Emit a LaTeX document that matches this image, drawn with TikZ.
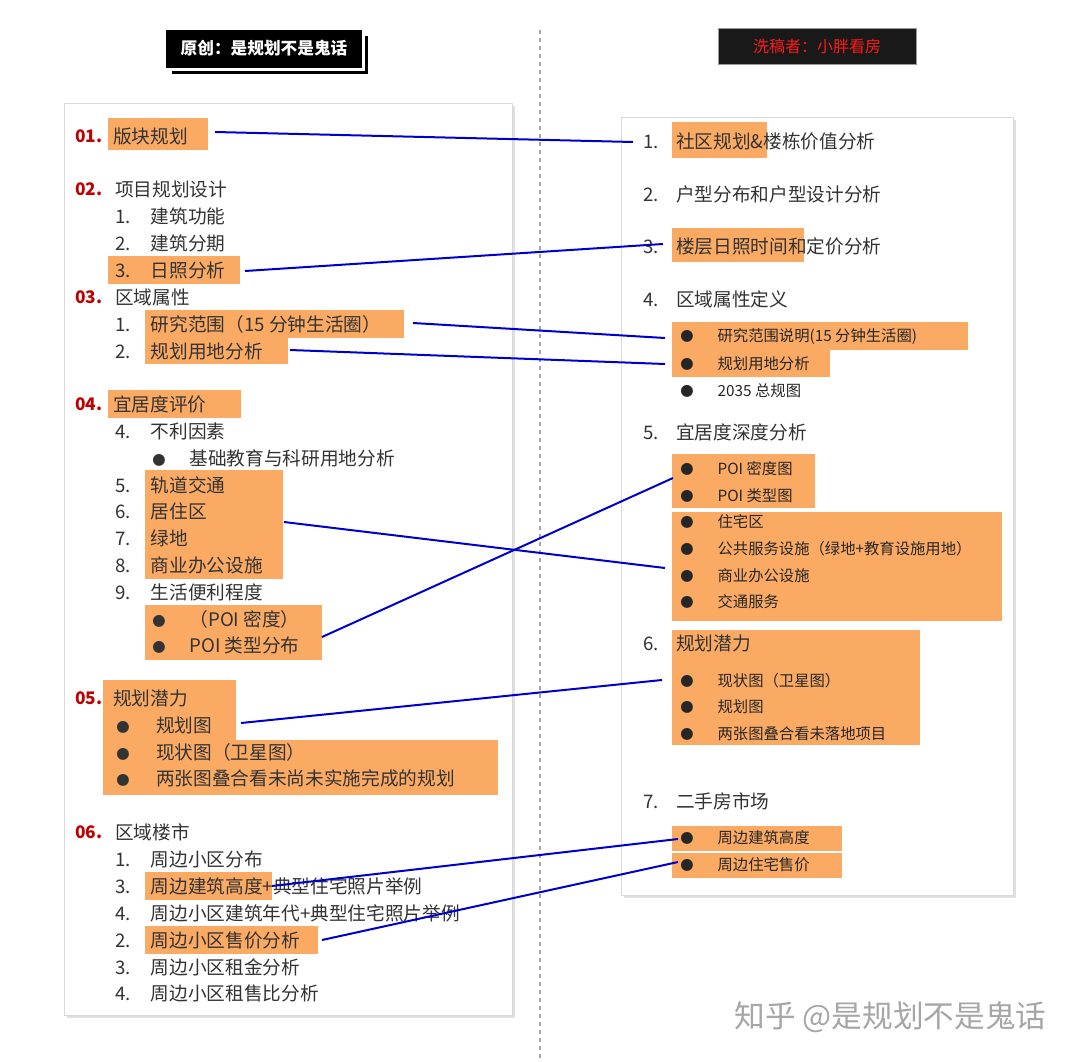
\documentclass[tikz,border=0pt]{standalone}
\usepackage{fontspec}
\setmainfont{Noto Sans CJK SC}
\newcommand{\bul}{{\fontsize{10}{12}\selectfont●}}
\begin{document}
\begin{tikzpicture}[x=0.75pt,y=-0.75pt,
  tx/.style={anchor=west,inner sep=0pt,font=\fontsize{14}{16}\selectfont,text=black!80},
  rtx/.style={anchor=west,inner sep=0pt,font=\fontsize{11.5}{13}\selectfont,text=black!85},
  num/.style={tx,text=red!75!black,font=\fontsize{13}{15}\selectfont\bfseries},
  lk/.style={draw=blue!80!black,line width=1.5pt}]
\definecolor{hlc}{HTML}{FBAA63}
\useasboundingbox (0,0) rectangle (1080,1062);
\fill[white] (0,0) rectangle (1080,1062);
\draw[black!35,dashed,line width=0.8pt] (540,30) -- (540,1062);
% cards
\fill[black!12] (67,106) rectangle (515,1018);
\fill[white,draw=black!15] (64,103) rectangle (512,1015);
\fill[black!12] (624,120) rectangle (1016,898);
\fill[white,draw=black!15] (621,117) rectangle (1013,895);
% headers
\fill[black] (172,36) rectangle (368,74);
\fill[white] (169,33) rectangle (365,71);
\fill[black] (166,30) rectangle (362,68);
\node[text=white,font=\fontsize{12.5}{14}\selectfont\bfseries] (h1) at (264,48) {原创：是规划不是鬼话};
\fill[black!90,draw=black!40] (718,28) rectangle (916,64);
\node[text=red!90,font=\fontsize{12}{14}\selectfont] (h2) at (817,46) {洗稿者：小胖看房};
% left highlights
\fill[hlc] (108,118) rectangle (208,150);
\fill[hlc] (108,256) rectangle (240,284);
\fill[hlc] (145,310) rectangle (404,338);
\fill[hlc] (145,337) rectangle (288,364);
\fill[hlc] (108,390) rectangle (241,418);
\fill[hlc] (145,470) rectangle (283,579);
\fill[hlc] (145,605) rectangle (322,660);
\fill[hlc] (103,680) rectangle (236,741);
\fill[hlc] (103,740) rectangle (498,795);
\fill[hlc] (145,872) rectangle (272,900);
\fill[hlc] (145,926) rectangle (318,954);
% right highlights
\fill[hlc] (672,122) rectangle (767,158);
\fill[hlc] (672,228) rectangle (804,262);
\fill[hlc] (672,322) rectangle (968,350);
\fill[hlc] (672,350) rectangle (830,377);
\fill[hlc] (672,454) rectangle (815,508);
\fill[hlc] (672,512) rectangle (1002,621);
\fill[hlc] (672,630) rectangle (920,745);
\fill[hlc] (672,826) rectangle (842,851);
\fill[hlc] (672,853) rectangle (842,878);
% left text
\node[num] (l01) at (75,136) {01.};
\node[tx] (a1) at (113,136) {版块规划};
\node[num] (l02) at (75,189) {02.};
\node[tx] at (115,189) {项目规划设计};
\node[tx] at (115,216) {1.\hspace{15pt}建筑功能};
\node[tx] at (115,243) {2.\hspace{15pt}建筑分期};
\node[tx] (a2) at (115,270) {3.\hspace{15pt}日照分析};
\node[num] at (75,297) {03.};
\node[tx] at (115,297) {区域属性};
\node[tx] (a3) at (115,324) {1.\hspace{15pt}研究范围（15 分钟生活圈）};
\node[tx] (a4) at (115,351) {2.\hspace{15pt}规划用地分析};
\node[num] at (75,404) {04.};
\node[tx] at (113,404) {宜居度评价};
\node[tx] at (115,431) {4.\hspace{15pt}不利因素};
\node[tx] at (152,458) {\bul\hspace{18pt}基础教育与科研用地分析};
\node[tx] at (115,485) {5.\hspace{15pt}轨道交通};
\node[tx] (a5) at (115,511) {6.\hspace{15pt}居住区};
\node[tx] at (115,538) {7.\hspace{15pt}绿地};
\node[tx] at (115,565) {8.\hspace{15pt}商业办公设施};
\node[tx] at (115,592) {9.\hspace{15pt}生活便利程度};
\node[tx] at (152,619) {\bul\hspace{18pt}（POI 密度）};
\node[tx] (a6) at (152,645) {\bul\hspace{18pt}POI 类型分布};
\node[num] at (75,698) {05.};
\node[tx] at (113,698) {规划潜力};
\node[tx] (a7) at (116,725) {\bul\hspace{20pt}规划图};
\node[tx] at (116,752) {\bul\hspace{20pt}现状图（卫星图）};
\node[tx] at (116,778) {\bul\hspace{20pt}两张图叠合看未尚未实施完成的规划};
\node[num] at (75,832) {06.};
\node[tx] at (115,832) {区域楼市};
\node[tx] at (115,859) {1.\hspace{15pt}周边小区分布};
\node[tx] (a8) at (115,886) {3.\hspace{15pt}周边建筑高度+典型住宅照片举例};
\node[tx] at (115,913) {4.\hspace{15pt}周边小区建筑年代+典型住宅照片举例};
\node[tx] (a9) at (115,940) {2.\hspace{15pt}周边小区售价分析};
\node[tx] at (115,967) {3.\hspace{15pt}周边小区租金分析};
\node[tx] at (115,993) {4.\hspace{15pt}周边小区租售比分析};
% right text
\node[tx] (b1) at (643,141) {1.\hspace{13pt}社区规划\&楼栋价值分析};
\node[tx] at (643,194) {2.\hspace{13pt}户型分布和户型设计分析};
\node[tx] (b2) at (643,246) {3.\hspace{13pt}楼层日照时间和定价分析};
\node[tx] at (643,299) {4.\hspace{13pt}区域属性定义};
\node[rtx] (b3) at (680,337) {\bul\hspace{18pt}研究范围说明(15 分钟生活圈)};
\node[rtx] (b4) at (680,364) {\bul\hspace{18pt}规划用地分析};
\node[rtx] at (680,391) {\bul\hspace{18pt}2035 总规图};
\node[tx] at (643,432) {5.\hspace{13pt}宜居度深度分析};
\node[rtx] (b6) at (680,469) {\bul\hspace{18pt}POI 密度图};
\node[rtx] at (680,496) {\bul\hspace{18pt}POI 类型图};
\node[rtx] at (680,522) {\bul\hspace{18pt}住宅区};
\node[rtx] at (680,549) {\bul\hspace{18pt}公共服务设施（绿地+教育设施用地）};
\node[rtx] (b5) at (680,576) {\bul\hspace{18pt}商业办公设施};
\node[rtx] at (680,602) {\bul\hspace{18pt}交通服务};
\node[tx] at (643,643) {6.\hspace{13pt}规划潜力};
\node[rtx] (b7) at (680,681) {\bul\hspace{18pt}现状图（卫星图）};
\node[rtx] at (680,707) {\bul\hspace{18pt}规划图};
\node[rtx] at (680,734) {\bul\hspace{18pt}两张图叠合看未落地项目};
\node[tx] at (643,801) {7.\hspace{13pt}二手房市场};
\node[rtx] (b8) at (680,838) {\bul\hspace{18pt}周边建筑高度};
\node[rtx] (b9) at (680,865) {\bul\hspace{18pt}周边住宅售价};
% links
\coordinate (p1) at (215,132); \coordinate (q1) at (633,142);
\coordinate (p2) at (245,271); \coordinate (q2) at (663,244);
\coordinate (p3) at (413,323); \coordinate (q3) at (665,338);
\coordinate (p4) at (290,350); \coordinate (q4) at (665,364);
\coordinate (p5) at (284,522); \coordinate (q5) at (665,568);
\coordinate (p6) at (322,637); \coordinate (q6) at (673,478);
\coordinate (p7) at (241,723); \coordinate (q7) at (662,680);
\coordinate (p8) at (272,886); \coordinate (q8) at (678,839);
\coordinate (p9) at (322,940); \coordinate (q9) at (678,862);
\foreach \i in {1,...,9} \draw[lk] (p\i) -- (q\i);
% watermark
\node[anchor=west,text=black!35,font=\fontsize{23}{26}\selectfont] (wm) at (730,1017) {知乎 @是规划不是鬼话};
\end{tikzpicture}
\end{document}
